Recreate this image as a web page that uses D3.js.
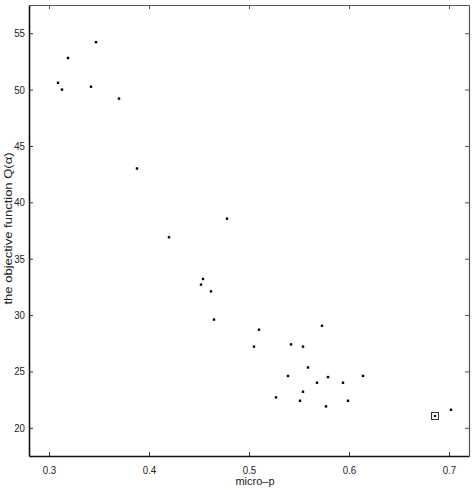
<!DOCTYPE html>
<html>
<head>
<meta charset="utf-8">
<script src="https://cdn.jsdelivr.net/npm/d3@7"></script>
<style>
html,body{margin:0;padding:0;background:#fff;}
svg{display:block;font-family:"Liberation Sans",Arial,Helvetica,sans-serif;}
</style>
</head>
<body>
<svg id="chart" width="474" height="490"></svg>
<script>
const microP = [0.309,0.313,0.319,0.347,0.342,0.370,0.388,0.420,0.478,
  0.452,0.454,0.462,0.465,
  0.505,0.510,0.527,0.539,0.542,0.551,0.554,0.554,0.559,0.568,0.573,0.577,0.579,0.594,0.599,0.614,0.702];
const objectiveQ = [50.6,50.0,52.8,54.2,50.25,49.2,43.0,36.9,38.55,
  32.7,33.2,32.1,29.6,
  27.2,28.7,22.7,24.6,27.4,22.4,23.2,27.2,25.35,24.0,29.05,21.9,24.5,24.0,22.4,24.6,21.6];
const markedPoint = [{x:0.686, y:21.05}];
const xTicks = [0.3,0.4,0.5,0.6,0.7];
const yTicks = [20,25,30,35,40,45,50,55];
const xLabel = "micro\u2013p";
const yLabel = "the objective function Q(\u03b1)";

const svg = d3.select("#chart");
const L=29, R=469, T=5, B=456;
const x = d3.scaleLinear().domain([0.28,0.72]).range([L,R]);
const y = d3.scaleLinear().domain([17.5,57.5]).range([B,T]);

const tickLen = 4;
const fmtX = d3.format(".1f");
const gB = svg.append("g").attr("transform",`translate(0,${B})`)
  .call(d3.axisBottom(x).tickValues(xTicks).tickFormat(fmtX).tickSizeInner(-tickLen).tickSizeOuter(0).tickPadding(10));
const gT = svg.append("g").attr("transform",`translate(0,${T})`)
  .call(d3.axisTop(x).tickValues(xTicks).tickFormat("").tickSizeInner(-tickLen).tickSizeOuter(0));
const gL = svg.append("g").attr("transform",`translate(${L},0)`)
  .call(d3.axisLeft(y).tickValues(yTicks).tickFormat(d3.format("d")).tickSizeInner(-tickLen).tickSizeOuter(0).tickPadding(4));
const gR = svg.append("g").attr("transform",`translate(${R},0)`)
  .call(d3.axisRight(y).tickValues(yTicks).tickFormat("").tickSizeInner(-tickLen).tickSizeOuter(0));

[gB,gL].forEach(g=>{
  g.select(".domain").attr("stroke","#111").attr("stroke-width",1.6);
  g.selectAll(".tick line").attr("stroke","#333");
  g.selectAll(".tick text").attr("font-size",11).attr("fill","#222")
    .attr("font-family","'Liberation Sans',Arial,sans-serif")
    .each(function(){
      const w = this.getComputedTextLength();
      d3.select(this).attr("textLength", w*0.88).attr("lengthAdjust","spacingAndGlyphs");
    });
});
[gT,gR].forEach(g=>{
  g.select(".domain").attr("stroke","#555").attr("stroke-width",1.2);
  g.selectAll(".tick line").attr("stroke","#555");
});

svg.append("g").selectAll("rect.pt").data(microP.map((d,i)=>({x:d,y:objectiveQ[i]})))
  .join("rect").attr("class","pt")
  .attr("x",d=>x(d.x)-1.2).attr("y",d=>y(d.y)-1.2)
  .attr("width",2.4).attr("height",2.4).attr("fill","#000");

const mk = svg.append("g").selectAll("g").data(markedPoint).join("g");
mk.append("rect").attr("x",d=>x(d.x)-3.5).attr("y",d=>y(d.y)-3.5)
  .attr("width",7).attr("height",7).attr("fill","none").attr("stroke","#333").attr("stroke-width",1);
mk.append("rect").attr("x",d=>x(d.x)-1).attr("y",d=>y(d.y)-1)
  .attr("width",2).attr("height",2).attr("fill","#000");

svg.append("text").attr("x",(L+R)/2+6).attr("y",485).attr("text-anchor","middle")
  .attr("font-size",11).attr("fill","#222").text(xLabel);
svg.append("text").attr("transform",`translate(12,${(T+B)/2-2}) rotate(-90)`)
  .attr("text-anchor","middle").attr("font-size",11).attr("fill","#222")
  .attr("textLength",152).attr("lengthAdjust","spacingAndGlyphs").text(yLabel);
</script>
</body>
</html>
